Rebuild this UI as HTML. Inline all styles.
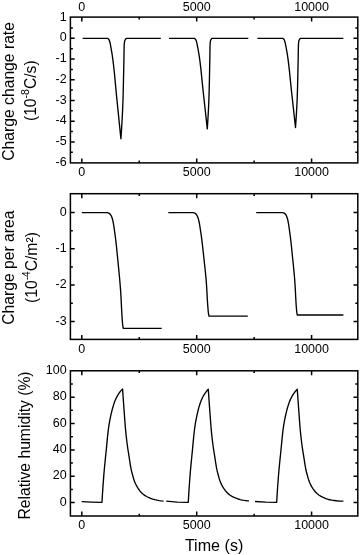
<!DOCTYPE html>
<html lang="en"><head><meta charset="utf-8"><title>Charge and humidity vs time</title>
<style>html,body{margin:0;padding:0;background:#fff}body{width:360px;height:555px;overflow:hidden}svg{display:block}</style>
</head><body>
<svg width="360" height="555" viewBox="0 0 360 555">
<rect width="360" height="555" fill="#fff"/>
<g fill="none" stroke="#000" stroke-width="1.35" stroke-linejoin="round" stroke-linecap="butt">
<path d="M82.7,38.4 L107.9,38.4 L109.19,39.98 L109.84,41.97 L110.31,43.99 L110.68,46.04 L111.04,48.08 L111.39,50.13 L111.74,52.17 L112.07,54.22 L112.39,56.27 L112.68,58.32 L112.96,60.38 L113.21,62.44 L113.46,64.49 L113.69,66.55 L113.92,68.61 L114.14,70.68 L114.35,72.74 L114.56,74.8 L114.76,76.87 L114.96,78.93 L115.15,81 L115.35,83.07 L115.54,85.13 L115.73,87.2 L115.92,89.27 L116.11,91.33 L116.31,93.4 L116.51,95.46 L116.71,97.53 L116.92,99.59 L117.13,101.65 L117.34,103.72 L117.55,105.78 L117.76,107.85 L117.97,109.91 L118.18,111.97 L118.39,114.04 L118.6,116.1 L118.81,118.16 L119.02,120.23 L119.22,122.29 L119.43,124.35 L119.64,126.42 L119.85,128.48 L120.06,130.55 L120.27,132.61 L120.48,134.67 L120.69,136.74 L120.9,138.8 L121.08,136.22 L121.25,133.63 L121.42,131.05 L121.59,128.47 L121.75,125.88 L121.91,123.3 L122.06,120.71 L122.2,118.13 L122.34,115.54 L122.46,112.96 L122.58,110.37 L122.7,107.79 L122.8,105.2 L122.89,102.62 L122.98,100.03 L123.05,97.44 L123.13,94.86 L123.2,92.27 L123.27,89.68 L123.33,87.09 L123.39,84.51 L123.45,81.92 L123.5,79.33 L123.56,76.74 L123.61,74.15 L123.66,71.57 L123.71,68.98 L123.77,66.39 L123.82,63.8 L123.87,61.21 L123.93,58.63 L123.97,56.03 L124,53.44 L124.04,50.85 L124.1,48.26 L124.17,45.68 L124.34,43.06 L124.77,40.53 L126.2,38.4 L160.8,38.4"/>
<path d="M169,38.4 L194.6,38.4 L195.83,39.77 L196.48,41.55 L196.94,43.37 L197.3,45.21 L197.65,47.05 L198,48.89 L198.34,50.74 L198.66,52.58 L198.97,54.43 L199.26,56.28 L199.53,58.13 L199.78,59.99 L200.02,61.84 L200.25,63.7 L200.47,65.56 L200.69,67.42 L200.9,69.28 L201.1,71.15 L201.29,73.01 L201.49,74.87 L201.68,76.74 L201.87,78.6 L202.05,80.47 L202.24,82.33 L202.43,84.2 L202.62,86.06 L202.81,87.93 L203.01,89.79 L203.21,91.66 L203.41,93.52 L203.61,95.38 L203.82,97.24 L204.02,99.1 L204.23,100.97 L204.43,102.83 L204.64,104.69 L204.84,106.55 L205.05,108.42 L205.25,110.28 L205.46,112.14 L205.66,114 L205.87,115.86 L206.07,117.73 L206.28,119.59 L206.48,121.45 L206.69,123.31 L206.89,125.18 L207.1,127.04 L207.3,128.9 L207.45,126.57 L207.6,124.24 L207.74,121.92 L207.89,119.59 L208.02,117.26 L208.16,114.93 L208.28,112.6 L208.4,110.27 L208.52,107.95 L208.63,105.62 L208.73,103.29 L208.83,100.96 L208.91,98.63 L208.99,96.3 L209.06,93.97 L209.13,91.64 L209.19,89.31 L209.25,86.98 L209.31,84.64 L209.36,82.31 L209.42,79.98 L209.46,77.65 L209.51,75.32 L209.56,72.99 L209.6,70.66 L209.65,68.32 L209.69,65.99 L209.74,63.66 L209.78,61.33 L209.83,59 L209.87,56.67 L209.91,54.33 L209.94,52 L209.97,49.66 L210.02,47.33 L210.08,45.01 L210.22,42.65 L210.58,40.36 L211.81,38.4 L248.3,38.4"/>
<path d="M257.4,38.4 L283,38.4 L284.22,39.75 L284.85,41.5 L285.3,43.29 L285.66,45.1 L286,46.92 L286.34,48.73 L286.68,50.55 L287,52.36 L287.3,54.18 L287.59,56 L287.85,57.83 L288.1,59.65 L288.33,61.48 L288.56,63.31 L288.78,65.14 L288.99,66.97 L289.2,68.8 L289.4,70.64 L289.59,72.47 L289.78,74.31 L289.97,76.14 L290.15,77.98 L290.34,79.82 L290.52,81.65 L290.71,83.49 L290.89,85.33 L291.08,87.16 L291.27,89 L291.47,90.83 L291.67,92.66 L291.87,94.5 L292.07,96.33 L292.28,98.17 L292.48,100 L292.68,101.83 L292.88,103.67 L293.08,105.5 L293.28,107.33 L293.48,109.17 L293.69,111 L293.89,112.83 L294.09,114.67 L294.29,116.5 L294.49,118.33 L294.69,120.17 L294.9,122 L295.1,123.83 L295.3,125.67 L295.5,127.5 L295.66,125.21 L295.82,122.91 L295.97,120.62 L296.12,118.33 L296.27,116.04 L296.41,113.74 L296.54,111.45 L296.67,109.15 L296.79,106.86 L296.91,104.57 L297.02,102.27 L297.12,99.98 L297.21,97.68 L297.29,95.39 L297.37,93.09 L297.44,90.79 L297.51,88.5 L297.57,86.2 L297.63,83.91 L297.69,81.61 L297.74,79.31 L297.79,77.02 L297.84,74.72 L297.89,72.42 L297.94,70.12 L297.99,67.83 L298.03,65.53 L298.08,63.23 L298.13,60.93 L298.18,58.64 L298.22,56.34 L298.26,54.04 L298.29,51.74 L298.33,49.44 L298.38,47.14 L298.45,44.85 L298.6,42.53 L298.98,40.28 L300.27,38.4 L343.4,38.4"/>
<path d="M81.8,212.6 L107.5,212.6 L109.62,213.51 L111.12,215.54 L112.05,217.79 L112.68,220.02 L113.2,222.35 L113.64,224.76 L114.01,227.2 L114.35,229.66 L114.68,232.1 L115.01,234.5 L115.33,236.89 L115.63,239.29 L115.92,241.69 L116.19,244.09 L116.46,246.49 L116.71,248.9 L116.95,251.31 L117.19,253.72 L117.43,256.12 L117.66,258.53 L117.9,260.94 L118.13,263.35 L118.37,265.75 L118.61,268.16 L118.85,270.57 L119.08,272.97 L119.31,275.38 L119.54,277.79 L119.76,280.2 L119.97,282.61 L120.17,285.02 L120.36,287.43 L120.54,289.84 L120.71,292.25 L120.86,294.66 L120.99,297.07 L121.12,299.49 L121.24,301.91 L121.36,304.32 L121.48,306.74 L121.6,309.15 L121.73,311.57 L121.87,313.98 L122.02,316.39 L122.19,318.81 L122.37,321.22 L122.57,323.63 L122.83,326.04 L123.3,328.4 L161.7,328.4"/>
<path d="M168.3,212.6 L193.3,212.6 L195.27,213.3 L196.75,214.99 L197.73,216.97 L198.37,218.93 L198.9,221 L199.34,223.14 L199.73,225.33 L200.07,227.54 L200.39,229.74 L200.72,231.89 L201.05,234.03 L201.35,236.18 L201.64,238.33 L201.91,240.48 L202.17,242.64 L202.43,244.79 L202.67,246.95 L202.91,249.11 L203.14,251.27 L203.38,253.43 L203.61,255.59 L203.85,257.75 L204.08,259.91 L204.32,262.07 L204.56,264.22 L204.79,266.38 L205.02,268.54 L205.25,270.7 L205.47,272.86 L205.68,275.02 L205.88,277.18 L206.07,279.34 L206.25,281.51 L206.42,283.67 L206.57,285.83 L206.7,288 L206.83,290.17 L206.95,292.34 L207.07,294.5 L207.19,296.67 L207.31,298.84 L207.44,301.01 L207.57,303.17 L207.73,305.34 L207.89,307.5 L208.08,309.66 L208.28,311.83 L208.55,313.98 L209,316.1 L247.8,316.1"/>
<path d="M256.2,212.6 L282.7,212.6 L284.64,213.29 L286.03,215 L286.93,217.01 L287.52,218.96 L288.01,221.02 L288.41,223.14 L288.76,225.31 L289.08,227.49 L289.37,229.66 L289.68,231.78 L289.97,233.9 L290.25,236.03 L290.52,238.15 L290.77,240.28 L291.01,242.41 L291.24,244.54 L291.47,246.68 L291.69,248.81 L291.91,250.94 L292.12,253.08 L292.34,255.21 L292.55,257.35 L292.77,259.48 L292.99,261.61 L293.21,263.74 L293.42,265.88 L293.64,268.01 L293.84,270.14 L294.04,272.28 L294.24,274.41 L294.43,276.55 L294.6,278.68 L294.77,280.82 L294.92,282.96 L295.06,285.1 L295.19,287.24 L295.3,289.38 L295.42,291.52 L295.53,293.66 L295.63,295.8 L295.75,297.94 L295.86,300.08 L295.99,302.22 L296.13,304.36 L296.28,306.5 L296.45,308.64 L296.63,310.78 L296.87,312.91 L297.3,315 L343.4,315"/>
<path d="M81.7,501.7 L91.85,502.1 L102,502.3 L102.16,499.31 L102.33,496.32 L102.51,493.33 L102.71,490.34 L102.91,487.35 L103.12,484.37 L103.34,481.38 L103.57,478.39 L103.8,475.41 L104.04,472.43 L104.31,469.44 L104.58,466.46 L104.88,463.48 L105.18,460.5 L105.48,457.52 L105.79,454.54 L106.1,451.57 L106.4,448.59 L106.68,445.6 L106.97,442.62 L107.25,439.63 L107.55,436.65 L107.87,433.67 L108.21,430.7 L108.59,427.74 L109.03,424.78 L109.53,421.83 L110.09,418.88 L110.71,415.94 L111.37,413.03 L112.08,410.12 L112.86,407.21 L113.74,404.33 L114.72,401.52 L115.88,398.77 L117.25,396.08 L118.8,393.51 L120.56,391.12 L122.6,388.9 L122.74,391.11 L122.89,393.33 L123.04,395.54 L123.19,397.76 L123.34,399.97 L123.5,402.18 L123.66,404.4 L123.81,406.61 L123.97,408.83 L124.14,411.04 L124.3,413.25 L124.46,415.47 L124.62,417.68 L124.78,419.89 L124.95,422.11 L125.12,424.32 L125.3,426.53 L125.49,428.74 L125.69,430.95 L125.9,433.16 L126.13,435.37 L126.38,437.57 L126.64,439.78 L126.91,441.98 L127.19,444.18 L127.48,446.38 L127.8,448.58 L128.13,450.77 L128.48,452.96 L128.83,455.15 L129.18,457.35 L129.51,459.54 L129.85,461.74 L130.18,463.93 L130.55,466.12 L130.94,468.31 L131.39,470.47 L131.93,472.62 L132.52,474.77 L133.1,476.92 L133.7,479.06 L134.4,481.15 L135.25,483.2 L136.24,485.2 L137.32,487.14 L138.51,489.01 L139.83,490.82 L141.28,492.49 L142.9,494.01 L144.68,495.36 L146.56,496.49 L148.57,497.49 L150.62,498.32 L152.72,499.04 L154.86,499.66 L157.02,500.15 L159.19,500.58 L161.39,500.94 L163.6,501.2"/>
<path d="M166.2,501.2 L177.25,502.1 L188.3,502.3 L188.45,499.32 L188.62,496.35 L188.8,493.37 L188.99,490.4 L189.18,487.42 L189.39,484.45 L189.6,481.48 L189.82,478.51 L190.05,475.54 L190.28,472.57 L190.54,469.6 L190.81,466.63 L191.09,463.67 L191.38,460.7 L191.68,457.74 L191.98,454.77 L192.27,451.81 L192.56,448.84 L192.84,445.87 L193.12,442.9 L193.39,439.93 L193.68,436.96 L193.99,434 L194.32,431.04 L194.69,428.09 L195.11,425.14 L195.59,422.2 L196.14,419.27 L196.74,416.34 L197.38,413.44 L198.06,410.53 L198.82,407.63 L199.67,404.76 L200.62,401.96 L201.74,399.21 L203.08,396.52 L204.59,393.94 L206.3,391.54 L208.3,389.3 L208.44,391.5 L208.59,393.7 L208.74,395.91 L208.89,398.11 L209.04,400.31 L209.2,402.51 L209.35,404.71 L209.51,406.92 L209.67,409.12 L209.83,411.32 L210,413.52 L210.16,415.72 L210.32,417.92 L210.48,420.12 L210.64,422.33 L210.81,424.53 L210.99,426.73 L211.18,428.92 L211.38,431.12 L211.59,433.32 L211.82,435.51 L212.07,437.71 L212.32,439.9 L212.59,442.09 L212.87,444.28 L213.16,446.47 L213.48,448.65 L213.81,450.83 L214.16,453.01 L214.51,455.19 L214.86,457.37 L215.19,459.56 L215.52,461.74 L215.86,463.92 L216.22,466.1 L216.61,468.27 L217.05,470.43 L217.59,472.57 L218.18,474.7 L218.76,476.84 L219.35,478.97 L220.04,481.06 L220.87,483.09 L221.84,485.09 L222.92,487.02 L224.09,488.89 L225.4,490.69 L226.83,492.36 L228.42,493.89 L230.18,495.25 L232.04,496.39 L234.03,497.4 L236.07,498.24 L238.15,498.99 L240.28,499.62 L242.42,500.08 L244.59,500.45 L246.78,500.73 L249,500.9"/>
<path d="M255,501.5 L265.85,502.1 L276.7,502.3 L276.86,499.32 L277.03,496.34 L277.21,493.36 L277.41,490.38 L277.61,487.4 L277.82,484.43 L278.04,481.45 L278.27,478.47 L278.5,475.5 L278.74,472.53 L279.01,469.55 L279.29,466.58 L279.58,463.61 L279.88,460.64 L280.18,457.67 L280.49,454.7 L280.8,451.74 L281.1,448.77 L281.39,445.79 L281.67,442.82 L281.95,439.84 L282.25,436.87 L282.57,433.91 L282.91,430.94 L283.3,427.99 L283.73,425.04 L284.23,422.1 L284.8,419.16 L285.41,416.24 L286.07,413.33 L286.78,410.43 L287.57,407.53 L288.44,404.66 L289.43,401.86 L290.58,399.13 L291.96,396.45 L293.51,393.89 L295.26,391.51 L297.3,389.3 L297.45,391.59 L297.6,393.89 L297.76,396.18 L297.92,398.47 L298.07,400.77 L298.24,403.06 L298.4,405.35 L298.56,407.65 L298.73,409.94 L298.9,412.23 L299.07,414.52 L299.24,416.82 L299.4,419.11 L299.57,421.4 L299.75,423.69 L299.93,425.99 L300.12,428.28 L300.33,430.56 L300.55,432.85 L300.78,435.14 L301.03,437.42 L301.3,439.71 L301.58,441.99 L301.87,444.27 L302.18,446.55 L302.51,448.82 L302.85,451.09 L303.22,453.36 L303.58,455.63 L303.94,457.91 L304.29,460.18 L304.63,462.46 L304.99,464.73 L305.38,466.99 L305.8,469.25 L306.3,471.49 L306.9,473.71 L307.51,475.93 L308.12,478.16 L308.79,480.35 L309.6,482.49 L310.58,484.58 L311.68,486.61 L312.88,488.56 L314.22,490.46 L315.69,492.22 L317.34,493.81 L319.16,495.24 L321.11,496.43 L323.18,497.46 L325.31,498.33 L327.48,499.11 L329.7,499.75 L331.94,500.15 L334.19,500.48 L336.46,500.77 L338.75,501 L341.07,501.15 L343.4,501.2"/>
</g>
<g fill="none" stroke="#000" stroke-width="1.5" stroke-linecap="butt">
<rect x="70.4" y="17.1" width="287.4" height="145.8"/>
<path d="M81.8,17.1 v4.5 M81.8,162.9 v-4.5 M196.7,17.1 v4.5 M196.7,162.9 v-4.5 M311.6,17.1 v4.5 M311.6,162.9 v-4.5 M139.25,17.1 v2.3 M139.25,162.9 v-2.3 M254.15,17.1 v2.3 M254.15,162.9 v-2.3 M70.4,38.3 h4.3 M357.8,38.3 h-4.3 M70.4,59.02 h4.3 M357.8,59.02 h-4.3 M70.4,79.74 h4.3 M357.8,79.74 h-4.3 M70.4,100.46 h4.3 M357.8,100.46 h-4.3 M70.4,121.18 h4.3 M357.8,121.18 h-4.3 M70.4,141.9 h4.3 M357.8,141.9 h-4.3 M70.4,27.94 h2.45 M357.8,27.94 h-2.45 M70.4,48.66 h2.45 M357.8,48.66 h-2.45 M70.4,69.38 h2.45 M357.8,69.38 h-2.45 M70.4,90.1 h2.45 M357.8,90.1 h-2.45 M70.4,110.82 h2.45 M357.8,110.82 h-2.45 M70.4,131.54 h2.45 M357.8,131.54 h-2.45 M70.4,152.26 h2.45 M357.8,152.26 h-2.45"/>
<rect x="70.4" y="193.7" width="287.4" height="145.7"/>
<path d="M81.8,193.7 v4.5 M81.8,339.4 v-4.5 M196.7,193.7 v4.5 M196.7,339.4 v-4.5 M311.6,193.7 v4.5 M311.6,339.4 v-4.5 M139.25,193.7 v2.3 M139.25,339.4 v-2.3 M254.15,193.7 v2.3 M254.15,339.4 v-2.3 M70.4,212.5 h4.3 M357.8,212.5 h-4.3 M70.4,248.8 h4.3 M357.8,248.8 h-4.3 M70.4,285.1 h4.3 M357.8,285.1 h-4.3 M70.4,321.4 h4.3 M357.8,321.4 h-4.3 M70.4,230.65 h2.45 M357.8,230.65 h-2.45 M70.4,266.95 h2.45 M357.8,266.95 h-2.45 M70.4,303.25 h2.45 M357.8,303.25 h-2.45"/>
<rect x="70.4" y="370.8" width="287.4" height="145.2"/>
<path d="M81.8,370.8 v4.5 M81.8,516 v-4.5 M196.7,370.8 v4.5 M196.7,516 v-4.5 M311.6,370.8 v4.5 M311.6,516 v-4.5 M139.25,370.8 v2.3 M139.25,516 v-2.3 M254.15,370.8 v2.3 M254.15,516 v-2.3 M70.4,397.16 h4.3 M357.8,397.16 h-4.3 M70.4,423.52 h4.3 M357.8,423.52 h-4.3 M70.4,449.88 h4.3 M357.8,449.88 h-4.3 M70.4,476.24 h4.3 M357.8,476.24 h-4.3 M70.4,502.6 h4.3 M357.8,502.6 h-4.3 M70.4,383.98 h2.45 M357.8,383.98 h-2.45 M70.4,410.34 h2.45 M357.8,410.34 h-2.45 M70.4,436.7 h2.45 M357.8,436.7 h-2.45 M70.4,463.06 h2.45 M357.8,463.06 h-2.45 M70.4,489.42 h2.45 M357.8,489.42 h-2.45"/>
</g>
<g font-family="'Liberation Sans', Arial, sans-serif" font-size="12.5" fill="#000">
<text x="66.6" y="20.73" text-anchor="end">1</text>
<text x="66.6" y="41.45" text-anchor="end">0</text>
<text x="66.6" y="62.17" text-anchor="end">-1</text>
<text x="66.6" y="82.89" text-anchor="end">-2</text>
<text x="66.6" y="103.61" text-anchor="end">-3</text>
<text x="66.6" y="124.33" text-anchor="end">-4</text>
<text x="66.6" y="145.05" text-anchor="end">-5</text>
<text x="66.6" y="165.77" text-anchor="end">-6</text>
<text x="81.8" y="176.3" text-anchor="middle">0</text>
<text x="81.8" y="10.6" text-anchor="middle">0</text>
<text x="196.7" y="176.3" text-anchor="middle">5000</text>
<text x="196.7" y="10.6" text-anchor="middle">5000</text>
<text x="311.6" y="176.3" text-anchor="middle">10000</text>
<text x="311.6" y="10.6" text-anchor="middle">10000</text>
<text x="66.6" y="215.65" text-anchor="end">0</text>
<text x="66.6" y="251.95" text-anchor="end">-1</text>
<text x="66.6" y="288.25" text-anchor="end">-2</text>
<text x="66.6" y="324.55" text-anchor="end">-3</text>
<text x="81.8" y="352.8" text-anchor="middle">0</text>
<text x="196.7" y="352.8" text-anchor="middle">5000</text>
<text x="311.6" y="352.8" text-anchor="middle">10000</text>
<text x="66.6" y="373.95" text-anchor="end">100</text>
<text x="66.6" y="400.31" text-anchor="end">80</text>
<text x="66.6" y="426.67" text-anchor="end">60</text>
<text x="66.6" y="453.03" text-anchor="end">40</text>
<text x="66.6" y="479.39" text-anchor="end">20</text>
<text x="66.6" y="505.75" text-anchor="end">0</text>
<text x="81.8" y="529.4" text-anchor="middle">0</text>
<text x="196.7" y="529.4" text-anchor="middle">5000</text>
<text x="311.6" y="529.4" text-anchor="middle">10000</text>
</g>
<g font-family="'Liberation Sans', Arial, sans-serif" font-size="15.7" fill="#000" text-anchor="middle">
<text x="214.1" y="550.5" font-size="16.1">Time (s)</text>
<text transform="translate(13.7,91.4) rotate(-90)">Charge change rate</text>
<text transform="translate(36.2,90.7) rotate(-90)">(10<tspan font-size="10.5" dy="-7.5">-8</tspan><tspan dy="7.5">C/s)</tspan></text>
<text transform="translate(13.7,267.7) rotate(-90)">Charge per area</text>
<text transform="translate(37,267.5) rotate(-90)">(10<tspan font-size="10" dy="-7.5">-4</tspan><tspan dy="7.5">C/m²)</tspan></text>
<text transform="translate(29.6,445.5) rotate(-90)">Relative humidity (%)</text>
</g>
</svg>
</body></html>
